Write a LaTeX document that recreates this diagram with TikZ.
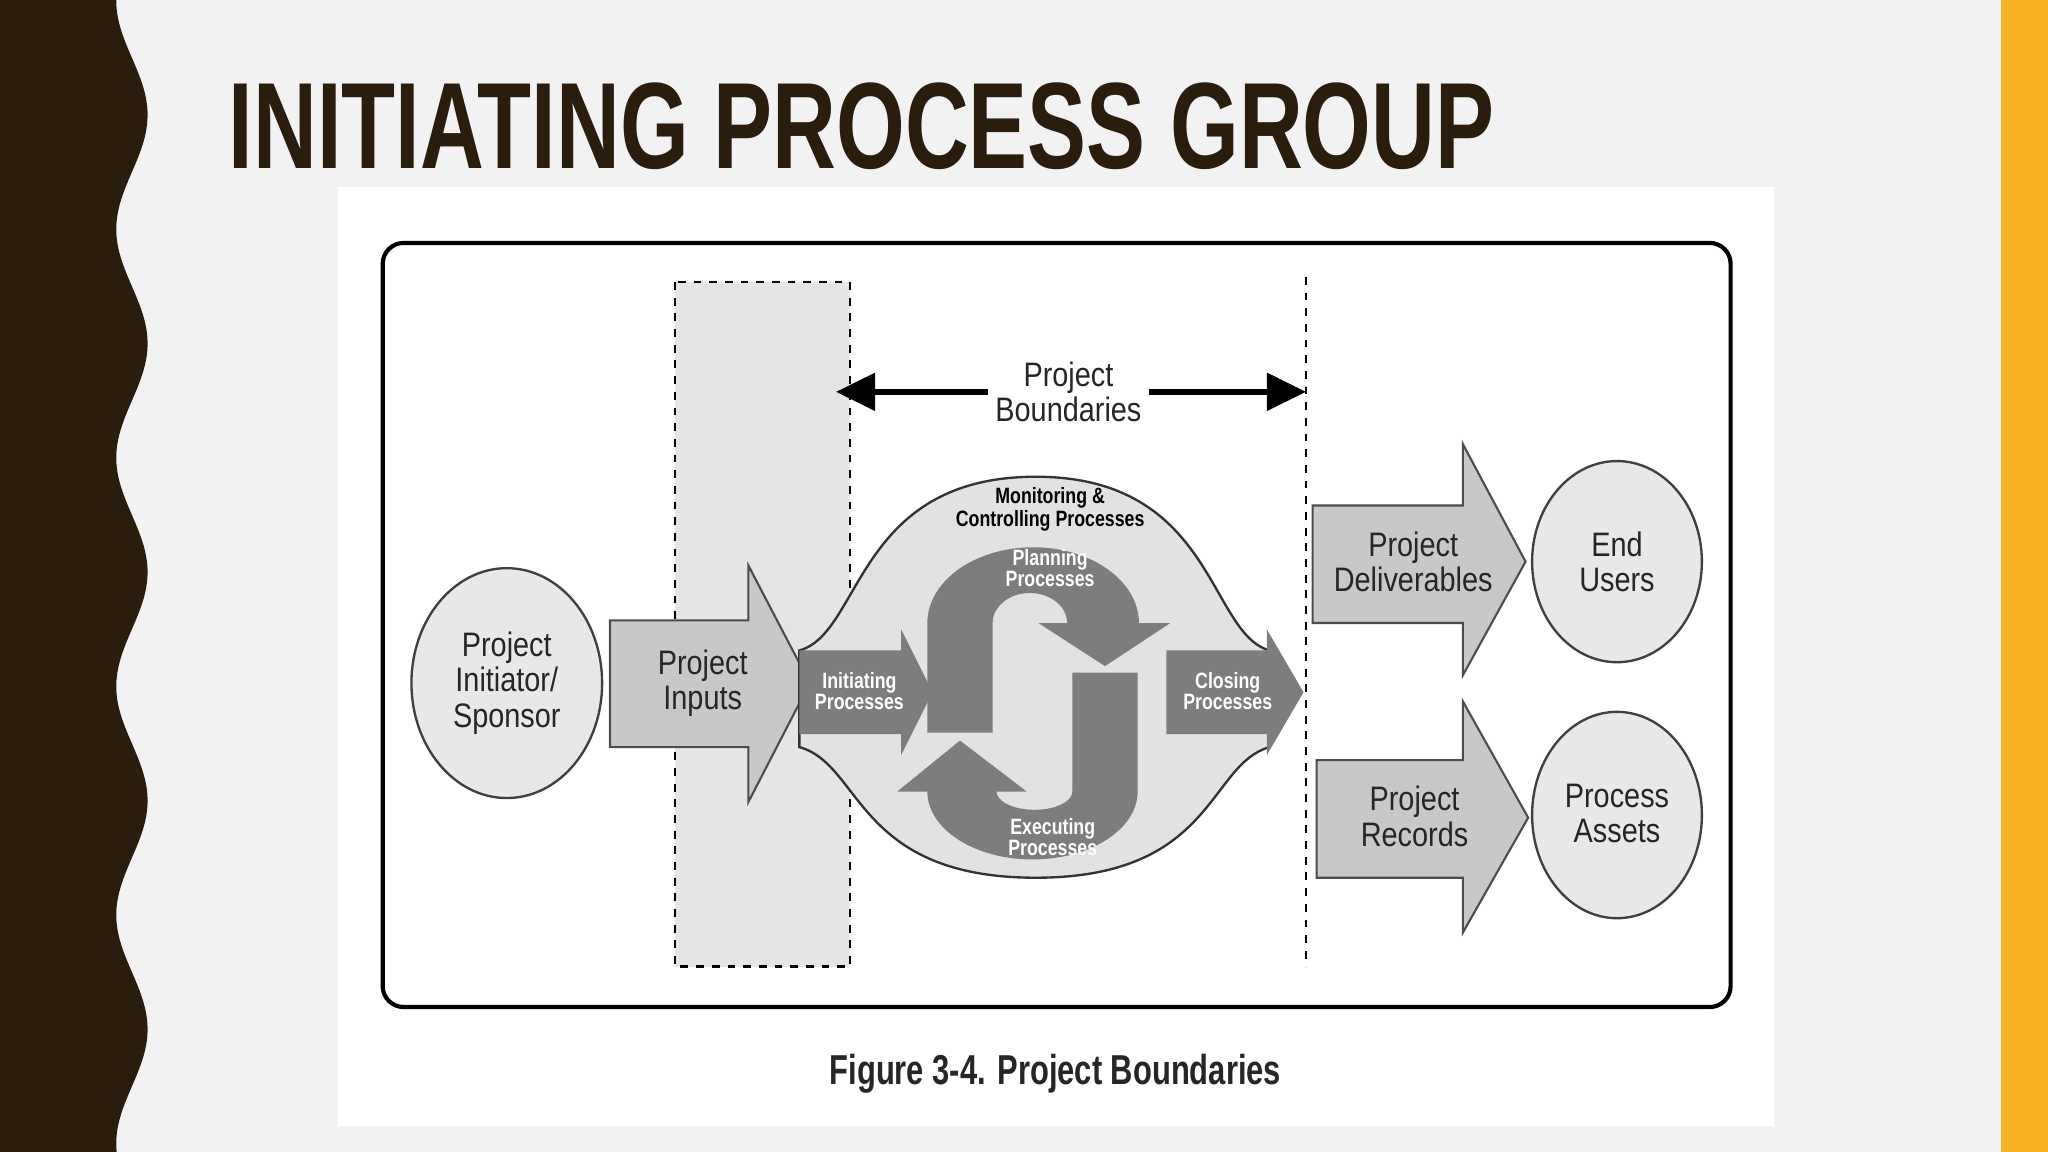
\documentclass[tikz,border=0pt]{standalone}
\usepackage{fontspec}
\setmainfont{Liberation Sans}
\usetikzlibrary{arrows.meta}
\definecolor{bgc}{HTML}{F2F2F2}
\definecolor{brown}{HTML}{2B1D0E}
\definecolor{orng}{HTML}{F7B125}
\definecolor{lgray}{HTML}{C8C8C8}
\definecolor{egray}{HTML}{E8E8E8}
\definecolor{dgray}{HTML}{7D7D7D}
\definecolor{blobc}{HTML}{E2E2E2}
\begin{document}
\begin{tikzpicture}[x=0.5pt,y=-0.5pt,
  lbl/.style={font=\fontsize{13}{13.5}\selectfont, xscale=0.85, align=center, text=black!85},
  wl/.style={font=\bfseries\fontsize{8.5}{8}\selectfont, xscale=0.8, align=center, text=white},
  bl/.style={font=\bfseries\fontsize{8.5}{8.5}\selectfont, xscale=0.8, align=center, text=black},
  garrow/.style={fill=lgray, draw=black!70, line width=0.8pt},
  darrow/.style={fill=dgray},
  ell/.style={fill=egray, draw=black!75, line width=0.9pt}]
\useasboundingbox (0,0) rectangle (1568,882);
\fill[bgc] (0,0) rectangle (1568,882);
\fill[orng] (1532,0) rectangle (1568,882);
\fill[brown] (0,0) -- plot[domain=0:882,samples=250] ({101+12*cos(2.0571*(\x-88))},\x) -- (0,882) -- cycle;
\node[font=\bfseries\fontsize{47}{47}\selectfont, text=brown, xscale=0.72, anchor=west, inner sep=0] (title) at (175,97) {INITIATING PROCESS GROUP};
\fill[white] (259,143) rectangle (1358,862);
\draw[line width=1.6pt, rounded corners=8pt] (293,186) rectangle (1325,771);
\draw[dashed, fill=black!10, line width=0.8pt] (517,216) rectangle (651,740);
\draw[dashed, line width=0.8pt] (1000,212) -- (1000,740);
% boundaries
\node[lbl] (pb) at (818,300) {Project\\Boundaries};
\coordinate (bl) at (640,300); \coordinate (br) at (1000,300);
\draw[line width=2.5pt, -{Triangle[length=15pt,width=14pt]}] (pb.west) -- (bl);
\draw[line width=2.5pt, -{Triangle[length=15pt,width=14pt]}] (pb.east) -- (br);
% sponsor
\draw[ell] (388,523) ellipse [x radius=73, y radius=88];
\node[lbl] (sp) at (388,523) {Project\\Initiator/\\Sponsor};
% inputs
\draw[garrow] (467,475) -- (573,475) -- (573,433) -- (620,523) -- (573,614) -- (573,572) -- (467,572) -- cycle;
\node[lbl] (pi) at (538,523) {Project\\Inputs};
% blob
\draw[fill=blobc, draw=black!80, line width=0.9pt] (612,498) .. controls (660,485) and (655,365) .. (793,365) .. controls (930,365) and (925,485) .. (972,498) -- (972,572) .. controls (925,585) and (930,672) .. (793,672) .. controls (655,672) and (660,585) .. (612,572) -- cycle;
\node[bl] (mc) at (804,390) {Monitoring \&\\Controlling Processes};
% initiating
\fill[darrow] (612,498) -- (690,498) -- (690,482) -- (714,530) -- (690,578) -- (690,562) -- (612,562) -- cycle;
\node[wl] (ip) at (658,529) {Initiating\\Processes};
% closing
\fill[darrow] (893,498) -- (970,498) -- (970,482) -- (998,530) -- (970,578) -- (970,562) -- (893,562) -- cycle;
\node[wl] (cp) at (940,529) {Closing\\Processes};
% planning
\fill[darrow] (710,561) -- (710,477) arc[start angle=180,end angle=360,x radius=81,y radius=58] -- (896,477) -- (846,510) -- (795,477) -- (817,477) arc[start angle=0,end angle=-180,x radius=28.5,y radius=23] -- (760,561) -- cycle;
\node[wl] (pp) at (804,435) {Planning\\Processes};
% executing
\fill[darrow] (871,515) -- (871,606) arc[start angle=0,end angle=180,x radius=80.5,y radius=52] -- (687,606) -- (735,567) -- (786,606) -- (763,606) arc[start angle=180,end angle=0,x radius=29,y radius=14] -- (821,515) -- cycle;
\node[wl] (ep) at (806,641) {Executing\\Processes};
% deliverables
\draw[garrow] (1005,387) -- (1120,387) -- (1120,340) -- (1168,430) -- (1120,517) -- (1120,477) -- (1005,477) -- cycle;
\node[lbl] (pd) at (1082,430) {Project\\Deliverables};
\draw[garrow] (1008,582) -- (1120,582) -- (1120,537) -- (1170,626) -- (1120,714) -- (1120,672) -- (1008,672) -- cycle;
\node[lbl] (pr) at (1083,625) {Project\\Records};
\draw[ell] (1238,430) ellipse [x radius=65, y radius=77];
\node[lbl] (eu) at (1238,430) {End\\Users};
\draw[ell] (1238,624) ellipse [x radius=65, y radius=79];
\node[lbl] (pa) at (1238,623) {Process\\Assets};
\node[font=\bfseries\fontsize{16}{16}\selectfont, xscale=0.74, text=black!85] (cap) at (808,822) {Figure 3-4. Project Boundaries};
\end{tikzpicture}
\end{document}
